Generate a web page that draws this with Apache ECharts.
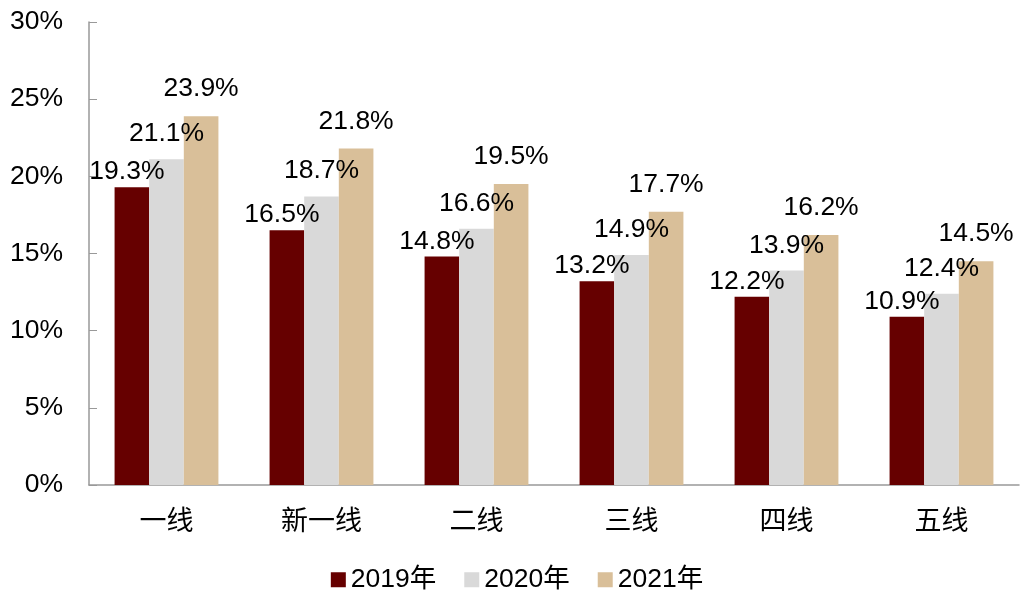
<!DOCTYPE html>
<html>
<head>
<meta charset="utf-8">
<script src="https://cdn.jsdelivr.net/npm/echarts@6/dist/echarts.min.js"></script>
<style>
  html, body { margin: 0; padding: 0; background: #fff; }
  #main { width: 1034px; height: 601px; }
</style>
</head>
<body>
<div id="main"></div>
<script>
// 城市分级
const categories = ['一线', '新一线', '二线', '三线', '四线', '五线']
const seriesNames = ['2019年', '2020年', '2021年']
const values2019 = [19.3, 16.5, 14.8, 13.2, 12.2, 10.9]
const values2020 = [21.1, 18.7, 16.6, 14.9, 13.9, 12.4]
const values2021 = [23.9, 21.8, 19.5, 17.7, 16.2, 14.5]
const yTicks = [0, 5, 10, 15, 20, 25, 30]

const colors = ['#660000', '#D9D9D9', '#D9BF99']
const font = 'Liberation Sans, Arial, Noto Sans CJK SC, sans-serif'
const axisColor = '#999'

const chart = echarts.init(document.getElementById('main'))

const makeSeries = (name, data, color, labelOpt) => ({
  name: name,
  type: 'bar',
  data: data,
  barGap: '0%',
  barCategoryGap: '33%',
  itemStyle: { color: color },
  label: Object.assign({
    show: true,
    position: 'top',
    formatter: p => p.value.toFixed(1) + '%',
    color: '#000',
    fontFamily: font,
    fontSize: 26.5
  }, labelOpt)
})

chart.setOption({
  animation: false,
  grid: { left: 89, right: 15, top: 22, bottom: 116 },
  legend: {
    data: seriesNames,
    bottom: 3,
    left: 'center',
    itemWidth: 15,
    itemHeight: 15,
    itemGap: 28,
    icon: 'rect',
    textStyle: { fontFamily: font, fontSize: 26.5, color: '#000' }
  },
  xAxis: {
    type: 'category',
    data: categories,
    axisLine: { lineStyle: { color: axisColor, width: 1.5 } },
    axisTick: { inside: true, length: 8, lineStyle: { color: axisColor } },
    axisLabel: { fontFamily: font, fontSize: 27, color: '#000', margin: 24 }
  },
  yAxis: {
    type: 'value',
    min: yTicks[0],
    max: yTicks[yTicks.length - 1],
    interval: 5,
    axisLine: { show: true, lineStyle: { color: axisColor, width: 1.5 } },
    axisTick: { show: true, inside: true, length: 8, lineStyle: { color: axisColor } },
    splitLine: { show: false },
    axisLabel: {
      fontFamily: font, fontSize: 26.5, color: '#000', margin: 26,
      formatter: v => v + '%'
    }
  },
  series: [
    makeSeries(seriesNames[0], values2019, colors[0], { distance: 2, offset: [-5, 0] }),
    makeSeries(seriesNames[1], values2020, colors[1], { distance: 12 }),
    makeSeries(seriesNames[2], values2021, colors[2], { distance: 14 })
  ]
})

window.addEventListener('resize', () => chart.resize())
</script>
</body>
</html>
